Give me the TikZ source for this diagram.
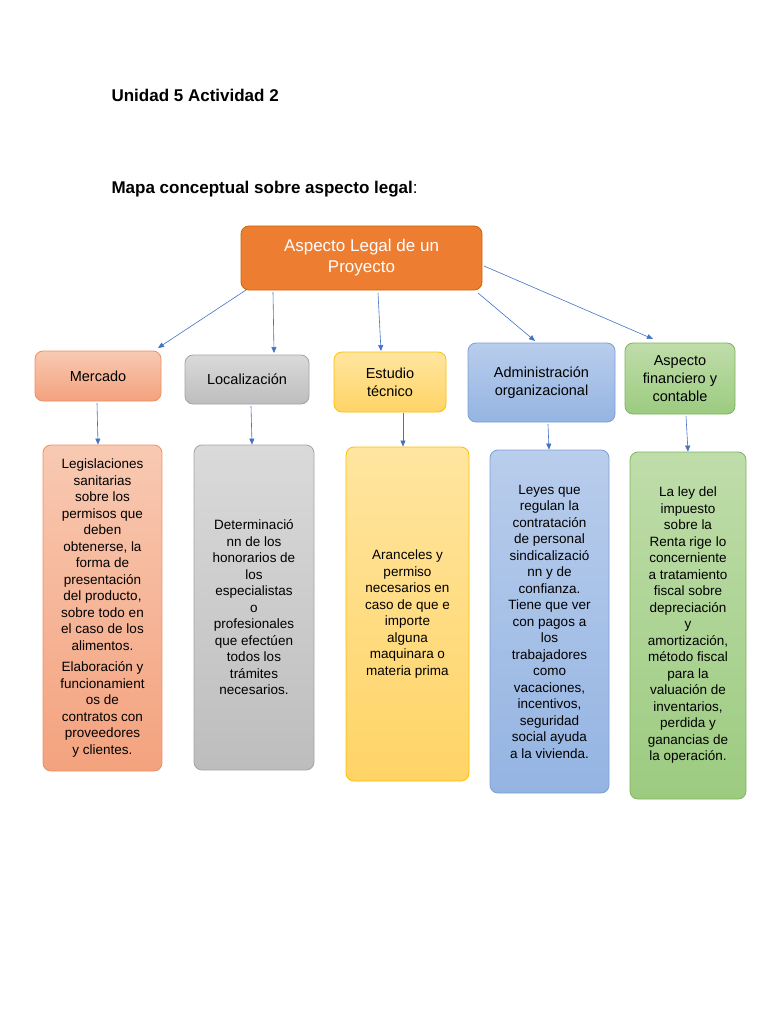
\documentclass[tikz,border=0pt]{standalone}
\usepackage{fontspec}
\setmainfont{Liberation Sans}
\usetikzlibrary{arrows.meta}
\definecolor{arr}{HTML}{4472C4}
\definecolor{mt}{HTML}{F8C9B2}\definecolor{mb}{HTML}{F4A27E}\definecolor{md}{HTML}{EE8F66}
\definecolor{lt}{HTML}{DADADA}\definecolor{lb}{HTML}{BDBDBD}\definecolor{ld}{HTML}{A5A5A5}
\definecolor{et}{HTML}{FFE5A0}\definecolor{eb}{HTML}{FFD466}\definecolor{ed}{HTML}{FFC000}
\definecolor{at}{HTML}{B9CDEC}\definecolor{ab}{HTML}{94B4E2}\definecolor{ad}{HTML}{7A9FD6}
\definecolor{ft}{HTML}{BFDDAA}\definecolor{fb}{HTML}{9CCB80}\definecolor{fd}{HTML}{7DB55C}
\begin{document}
\begin{tikzpicture}[x=1pt,y=-1pt,
  box/.style={draw, rounded corners=8pt, line width=0.8pt, align=center, inner sep=2pt,
    font=\fontsize{13.5}{16.5}\selectfont},
  hb/.style={font=\fontsize{14.5}{18}\selectfont},
  mer/.style={box, draw=md, top color=mt, bottom color=mb},
  loc/.style={box, draw=ld, top color=lt, bottom color=lb},
  est/.style={box, draw=ed, top color=et, bottom color=eb},
  adm/.style={box, draw=ad, top color=at, bottom color=ab},
  fin/.style={box, draw=fd, top color=ft, bottom color=fb},
  con/.style={draw=arr, line width=0.6pt, -{Triangle[length=6pt,width=5pt]}}]
\useasboundingbox[fill=white] (0,0) rectangle (768,1024);
\node[anchor=west, font=\fontsize{17}{20}\selectfont\bfseries] (t1) at (108,95) {Unidad 5 Actividad 2};
\node[anchor=west, font=\fontsize{17}{20}\selectfont] (t2) at (108,189) {\textbf{Mapa conceptual sobre aspecto legal}:};
\node[box, draw=orange!80!black, fill={rgb,255:red,237;green,125;blue,49}, text=white, minimum width=241pt, minimum height=64pt, font=\fontsize{17}{21}\selectfont] (top) at (361.5,258) {Aspecto Legal de un\\Proyecto};
\node[mer, hb, minimum width=126pt, minimum height=50pt] (m) at (98,376) {Mercado};
\node[loc, hb, minimum width=124pt, minimum height=49pt] (l) at (247,379.5) {Localización};
\node[est, hb, minimum width=112pt, minimum height=60pt] (e) at (390,382) {Estudio\\técnico};
\node[adm, hb, minimum width=147pt, minimum height=79pt] (a) at (541.5,382.5) {Administración\\organizacional};
\node[fin, hb, minimum width=110pt, minimum height=71pt] (f) at (680,378.5) {Aspecto\\financiero y\\contable};
\node[mer, minimum width=119pt, minimum height=326pt] (m2) at (102.5,608) {Legislaciones\\sanitarias\\sobre los\\permisos que\\deben\\obtenerse, la\\forma de\\presentación\\del producto,\\sobre todo en\\el caso de los\\alimentos.\\[5pt]Elaboración y\\funcionamient\\os de\\contratos con\\proveedores\\y clientes.};
\node[loc, minimum width=120pt, minimum height=325pt] (l2) at (254,607.5) {Determinació\\nn de los\\honorarios de\\los\\especialistas\\o\\profesionales\\que efectúen\\todos los\\trámites\\necesarios.};
\node[est, minimum width=123pt, minimum height=334pt] (e2) at (407.5,614) {Aranceles y\\permiso\\necesarios en\\caso de que e\\importe\\alguna\\maquinara o\\materia prima};
\node[adm, minimum width=119pt, minimum height=343pt] (a2) at (549.5,621.5) {Leyes que\\regulan la\\contratación\\de personal\\sindicalizació\\nn y de\\confianza.\\Tiene que ver\\con pagos a\\los\\trabajadores\\como\\vacaciones,\\incentivos,\\seguridad\\social ayuda\\a la vivienda.};
\node[fin, minimum width=116pt, minimum height=347pt] (f2) at (688,625.5) {La ley del\\impuesto\\sobre la\\Renta rige lo\\concerniente\\a tratamiento\\fiscal sobre\\depreciación\\y\\amortización,\\método fiscal\\para la\\valuación de\\inventarios,\\perdida y\\ganancias de\\la operación.};
\coordinate (s1) at (246,290); \coordinate (s2) at (273,292); \coordinate (s3) at (378,293);
\coordinate (s4) at (478,293); \coordinate (s5) at (484,266);
\draw[con] (s1) -- (158,348);
\draw[con] (s2) -- (274,353);
\draw[con] (s3) -- (381,351);
\draw[con] (s4) -- (535,341);
\draw[con] (s5) -- (653,339);
\draw[con] (97,403) -- (m2.north -| 98,0);
\draw[con] (251,406) -- (l2.north -| 252,0);
\draw[con] (403,413) -- (e2.north -| 403,0);
\draw[con] (548,424) -- (a2.north -| 549,0);
\draw[con] (686,416) -- (f2.north -| 688,0);
\end{tikzpicture}
\end{document}
